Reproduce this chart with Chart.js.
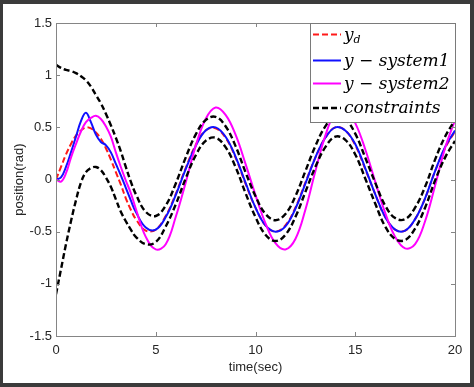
<!DOCTYPE html>
<html><head><meta charset="utf-8">
<script src="https://cdn.jsdelivr.net/npm/chart.js@4"></script>
<style>html,body{margin:0;padding:0;background:#fff;}canvas{display:block;}</style>
</head><body>
<canvas id="c" width="474" height="387"></canvas>
<script>
// ---- data ----
const times = [0,0.25,0.5,0.75,1,1.25,1.5,1.75,2,2.25,2.5,2.75,3,3.25,3.5,3.75,4,4.5,5,5.5,6,6.5,7,7.5,8,8.5,9,9.5,10,10.5,11,11.5,12,12.5,13,13.5,14,14.5,15,15.5,16,16.5,17,17.5,18,18.5,19,19.5,20];
const yd = [0,0.12,0.24,0.34,0.42,0.47,0.50,0.49,0.45,0.39,0.30,0.19,0.07,-0.05,-0.18,-0.29,-0.38,-0.49,-0.48,-0.35,-0.14,0.11,0.33,0.47,0.49,0.40,0.21,-0.04,-0.27,-0.44,-0.50,-0.44,-0.27,-0.03,0.21,0.40,0.50,0.47,0.33,0.10,-0.14,-0.36,-0.48,-0.49,-0.38,-0.18,0.08,0.30,0.46];
const ySystem1 = [0,0.02,0.12,0.26,0.41,0.56,0.64,0.55,0.43,0.36,0.33,0.26,0.15,0.04,-0.08,-0.20,-0.31,-0.46,-0.48,-0.36,-0.15,0.10,0.32,0.47,0.50,0.41,0.22,-0.03,-0.27,-0.44,-0.50,-0.45,-0.28,-0.04,0.21,0.40,0.50,0.47,0.34,0.11,-0.14,-0.36,-0.48,-0.49,-0.38,-0.18,0.08,0.31,0.47];
const ySystem2 = [0,-0.02,0.06,0.21,0.34,0.46,0.55,0.59,0.61,0.58,0.51,0.41,0.26,0.12,-0.01,-0.13,-0.28,-0.55,-0.67,-0.62,-0.36,-0.03,0.32,0.58,0.69,0.62,0.43,0.15,-0.15,-0.42,-0.61,-0.67,-0.57,-0.29,0.08,0.42,0.64,0.68,0.54,0.29,-0.02,-0.32,-0.55,-0.66,-0.62,-0.40,-0.06,0.30,0.57];
const upperBound = [1.10,1.07,1.05,1.04,1.02,0.99,0.95,0.89,0.81,0.73,0.63,0.52,0.40,0.27,0.12,-0.02,-0.14,-0.31,-0.35,-0.25,-0.04,0.21,0.43,0.57,0.60,0.51,0.32,0.07,-0.16,-0.33,-0.39,-0.33,-0.16,0.08,0.32,0.51,0.61,0.58,0.44,0.21,-0.03,-0.25,-0.37,-0.38,-0.27,-0.07,0.19,0.41,0.57];
const lowerBound = [-1.10,-0.86,-0.62,-0.40,-0.20,-0.03,0.07,0.11,0.12,0.09,0.02,-0.07,-0.19,-0.31,-0.40,-0.48,-0.55,-0.62,-0.60,-0.45,-0.24,0.01,0.23,0.37,0.40,0.31,0.12,-0.13,-0.36,-0.53,-0.59,-0.53,-0.36,-0.12,0.12,0.31,0.41,0.38,0.24,0.01,-0.23,-0.45,-0.57,-0.58,-0.47,-0.27,-0.01,0.21,0.37];
const xTicks = [0,5,10,15,20];
const yTicks = [-1.5,-1,-0.5,0,0.5,1,1.5];
const xTitle = 'time(sec)';
const yTitle = 'position(rad)';

const pts = arr => arr.map((v,i)=>({x:times[i], y:v}));
const AXIS_COLOR = '#858585';
const TEXT_COLOR = '#262626';
const DASH = [6,3];

const frame = {
  id:'frame',
  beforeDraw(chart){
    const c = chart.ctx;
    c.save();
    c.fillStyle = '#3b3b3b';
    c.fillRect(0,0,chart.width,chart.height);
    c.fillStyle = '#ffffff';
    c.fillRect(3,4,467,379);
    c.restore();
  }
};

const boxAndLegend = {
  id:'boxAndLegend',
  afterDatasetsDraw(chart){
    const c = chart.ctx;
    const {left,right,top,bottom} = chart.chartArea;
    const xs = chart.scales.x, ys = chart.scales.y;
    c.save();
    c.strokeStyle = AXIS_COLOR; c.lineWidth = 1;
    c.strokeRect(Math.round(left)+0.5, Math.round(top)+0.5, Math.round(right-left), Math.round(bottom-top));
    c.beginPath();
    const tl = 4;
    xTicks.forEach(v=>{
      const p = Math.round(xs.getPixelForValue(v))+0.5;
      c.moveTo(p,bottom); c.lineTo(p,bottom-tl);
      c.moveTo(p,top); c.lineTo(p,top+tl);
    });
    yTicks.forEach(v=>{
      const p = Math.round(ys.getPixelForValue(v))+0.5;
      c.moveTo(left,p); c.lineTo(left+tl,p);
      c.moveTo(right,p); c.lineTo(right-tl,p);
    });
    c.stroke();

    // legend box
    const lx = 310.5, ly = Math.round(top)+0.5, lw = Math.round(right)-310, lh = 99;
    c.fillStyle = '#fff';
    c.fillRect(lx,ly,lw,lh);
    c.strokeStyle = '#7a7a7a';
    c.strokeRect(lx,ly,lw,lh);
    const ds = chart.data.datasets;
    const rows = [
      {y:34.5, ds:ds[0], parts:[['i','y'],['sub','d']]},
      {y:60.5, ds:ds[1], parts:[['i','y'],['n',' − '],['i','system1']]},
      {y:83.5, ds:ds[2], parts:[['i','y'],['n',' − '],['i','system2']]},
      {y:108, ds:ds[3], parts:[['i','constraints']]}
    ];
    rows.forEach(r=>{
      c.beginPath();
      c.strokeStyle = r.ds.borderColor;
      c.lineWidth = r.ds.borderWidth;
      c.setLineDash(r.ds.borderDash || []);
      c.moveTo(313, r.y); c.lineTo(341, r.y);
      c.stroke();
      c.setLineDash([]);
      let x = 344;
      c.fillStyle = '#000';
      c.textBaseline = 'alphabetic';
      r.parts.forEach(([k,t])=>{
        let yy = r.y + 5;
        if (k==='i') c.font = 'italic 17px "DejaVu Serif"';
        else if (k==='sub') { c.font = 'italic 11px "DejaVu Serif"'; yy += 3; }
        else c.font = '17px "DejaVu Serif"';
        c.fillText(t, x, yy);
        x += c.measureText(t).width;
      });
    });
    c.restore();
  }
};

new Chart(document.getElementById('c'), {
  type:'line',
  data:{
    datasets:[
      {label:'y_d', data:pts(yd), borderColor:'#ff1a1a', borderWidth:2, borderDash:DASH, order:3},
      {label:'y - system1', data:pts(ySystem1), borderColor:'#1010ff', borderWidth:2, order:2},
      {label:'y - system2', data:pts(ySystem2), borderColor:'#ff00ff', borderWidth:2, order:1},
      {label:'constraints', data:pts(upperBound), borderColor:'#000000', borderWidth:2.4, borderDash:DASH, order:0},
      {label:'constraints lower', data:pts(lowerBound), borderColor:'#000000', borderWidth:2.4, borderDash:DASH, order:0}
    ]
  },
  options:{
    responsive:false,
    animation:false,
    devicePixelRatio:1,
    layout:{padding:{left:0,top:23,right:19,bottom:0}},
    elements:{point:{radius:0}, line:{tension:0.4, fill:false}},
    plugins:{legend:{display:false}, tooltip:{enabled:false}},
    scales:{
      x:{type:'linear', min:0, max:20,
        afterBuildTicks:s=>{s.ticks = xTicks.map(v=>({value:v}));},
        afterFit:s=>{s.height = 51;},
        grid:{display:false, drawTicks:false}, border:{display:false},
        ticks:{color:TEXT_COLOR, padding:7, maxRotation:0, font:{family:'"Liberation Sans", Arial', size:13}, callback:v=>String(v)},
        title:{display:true, text:xTitle, color:TEXT_COLOR, font:{family:'"Liberation Sans", Arial', size:13}, padding:{top:0,bottom:12}}
      },
      y:{type:'linear', min:-1.5, max:1.5,
        afterBuildTicks:s=>{s.ticks = yTicks.map(v=>({value:v}));},
        afterFit:s=>{s.width = 56;},
        grid:{display:false, drawTicks:false}, border:{display:false},
        ticks:{color:TEXT_COLOR, padding:4, font:{family:'"Liberation Sans", Arial', size:13}, callback:v=>String(v)},
        title:{display:true, text:yTitle, color:TEXT_COLOR, font:{family:'"Liberation Sans", Arial', size:13}, padding:{top:12,bottom:0}}
      }
    }
  },
  plugins:[frame, boxAndLegend]
});
</script>
</body></html>
